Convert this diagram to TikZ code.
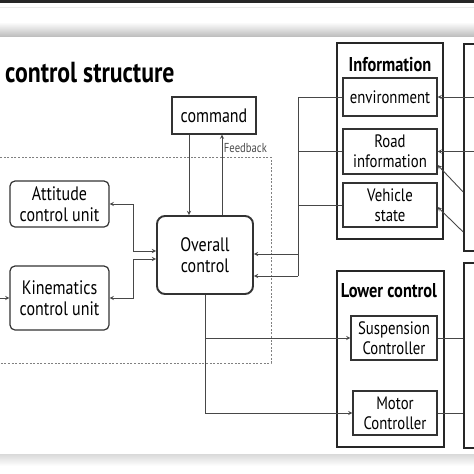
\documentclass[tikz,border=0pt]{standalone}
\usepackage{fontspec}
\setmainfont[FakeStretch=0.82]{PT Sans}
\usetikzlibrary{arrows.meta}

\begin{document}
\begin{tikzpicture}[x=1pt, y=-1pt,
	box/.style={draw=black!80, line width=1.2pt, align=center, inner sep=0pt, font=\fontsize{19.5}{21}\selectfont},
	sbox/.style={box, font=\fontsize{18}{20}\selectfont},
	rbox/.style={box, rounded corners=5pt},
	group/.style={draw=black!85, line width=1.6pt, inner sep=0pt},
	head/.style={font=\bfseries\fontsize{20}{20}\selectfont, inner sep=0pt},
	line/.style={draw=black!72, line width=0.9pt},
	flow/.style={line, -{stealth}},
	flowboth/.style={line, {stealth}-{stealth}},
	frame/.style={draw=black!50, line width=0.8pt, dash pattern=on 2pt off 1.6pt},
]
\useasboundingbox (0,0) rectangle (474,474);
\clip (0,0) rectangle (474,474);

% Rand oben und unten
\fill[black!85] (0,0) rectangle (474,3);
\draw[black!8] (0,7) -- (474,7);
\shade[top color=white, bottom color=black!25] (0,22) rectangle (474,36);
\shade[top color=black!15, bottom color=white] (0,454) rectangle (474,466);

% Ueberschrift
\node[anchor=base west, font=\bfseries\fontsize{29}{30}\selectfont, inner sep=0pt] (title) at (5,82) {control structure};

% gestrichelter Rahmen
\draw[frame] (-2,157) rectangle (271,363);

% Bloecke links
\node[box, minimum width=84pt, minimum height=37pt] (command) at (214,115.5) {command};
\node[rbox, minimum width=99pt, minimum height=46pt] (attitude) at (59.5,204) {Attitude\\control unit};
\node[rbox, minimum width=99pt, minimum height=64pt] (kinematics) at (59.5,298) {Kinematics\\control unit};
\node[rbox, line width=1.9pt, rounded corners=8pt, minimum width=96pt, minimum height=78pt] (overall) at (205,255) {Overall\\control};

% Information
\node[group, minimum width=106pt, minimum height=196pt] (info) at (390,141) {};
\node[head, anchor=base] (infohead) at (390,71) {Information};
\node[sbox, minimum width=94pt, minimum height=38pt] (env) at (390,97) {environment};
\node[sbox, minimum width=94pt, minimum height=45pt] (road) at (390,151.5) {Road\\information};
\node[sbox, minimum width=94pt, minimum height=44pt] (vehicle) at (390,205) {Vehicle\\state};

% Lower control
\node[group, minimum width=107pt, minimum height=176pt] (lower) at (390.5,359) {};
\node[head, anchor=base] (lowerhead) at (389,297) {Lower control};
\node[sbox, minimum width=86pt, minimum height=44pt] (susp) at (394,338) {Suspension\\Controller};
\node[sbox, minimum width=84pt, minimum height=44pt] (motor) at (395,413) {Motor\\Controller};

% Bloecke rechts (abgeschnitten)
\node[group, minimum width=30pt, minimum height=207pt, anchor=north west] (farinfo) at (463,43) {};
\node[group, minimum width=30pt, minimum height=185pt, anchor=north west] (farlower) at (463,262) {};

% Hilfspunkte
\coordinate (kinin) at (-2,298);
\coordinate (bus) at (298,0);
\coordinate (offright) at (480,0);
\coordinate (oin1) at ([yshift=1pt]overall.east);
\coordinate (oin2) at ([yshift=-21pt]overall.east);

% Verbindungen command
\draw[flow] ([xshift=-25pt]command.south) -- ([xshift=-16pt]overall.north);
\draw[flow] ([xshift=17pt]overall.north) -- node[pos=0.83, anchor=west, inner sep=1.5pt, text=black!70, font=\fontsize{13}{13}\selectfont] {Feedback} ([xshift=8pt]command.south);

% Verbindungen links
\draw[flowboth] (attitude.east) -- ++(24,0) |- ([yshift=4pt]overall.west);
\draw[flowboth] (kinematics.east) -- ++(24,0) |- ([yshift=-4pt]overall.west);
\draw[flow] (kinin) -- (kinematics.west);

% Sammelleitung Information
\draw[line] (env.west) -- (env.west -| bus) -- (oin2 -| bus);
\draw[line] (road.west) -- (road.west -| bus);
\draw[line] (vehicle.west) -- (vehicle.west -| bus);
\draw[flow] (oin1 -| bus) -- (oin1);
\draw[flow] (oin2 -| bus) -- (oin2);

% Verbindungen Lower control
\draw[line] (overall.south) -- (overall.south |- motor.west);
\draw[flow] (overall.south |- susp.west) -- (susp.west);
\draw[flow] (overall.south |- motor.west) -- (motor.west);
\draw[line] (susp.east) -- (susp.east -| farlower.west);
\draw[line] (motor.east) -- (motor.east -| farlower.west);

% Eingaenge Information von rechts
\draw[flow] (env.east -| offright) -- (env.east);
\draw[flow] (road.east -| offright) -- (road.east);
\draw[flow] ([yshift=-44.5pt]farinfo.west) -- ([yshift=-13.5pt]road.east);
\draw[flow] ([yshift=-84.5pt]farinfo.west) -- ([yshift=-2pt]vehicle.east);
\end{tikzpicture}
\end{document}
